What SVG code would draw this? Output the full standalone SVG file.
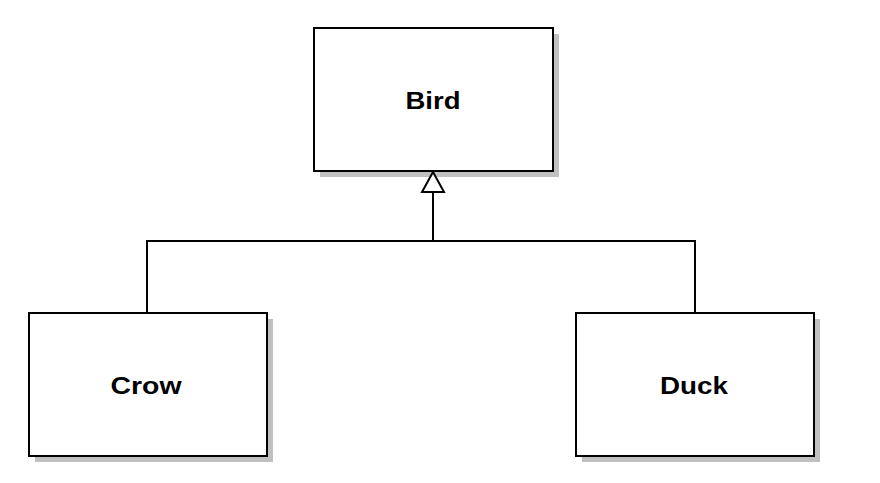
<svg xmlns="http://www.w3.org/2000/svg" width="880" height="483" viewBox="0 0 880 483">
<style>
.box{fill:#fff;stroke:#000;stroke-width:2}
.sh{fill:#c0c0c0}
.t{font-family:"Liberation Sans",Arial,sans-serif;font-weight:bold;font-size:24px;text-anchor:middle;dominant-baseline:central}
.c{fill:none;stroke:#000;stroke-width:2}
</style>
<rect width="880" height="483" fill="#fff"/>
<g id="Bird"><rect class="sh" x="320" y="34" width="239" height="143"/><rect class="box" x="314" y="28" width="239" height="143"/><text class="t" x="433" y="100" textLength="55" lengthAdjust="spacingAndGlyphs">Bird</text></g>
<g id="Crow"><rect class="sh" x="35" y="319" width="238" height="143"/><rect class="box" x="29" y="313" width="238" height="143"/><text class="t" x="146" y="385" textLength="71" lengthAdjust="spacingAndGlyphs">Crow</text></g>
<g id="Duck"><rect class="sh" x="582" y="319" width="238" height="143"/><rect class="box" x="576" y="313" width="238" height="143"/><text class="t" x="694" y="385" textLength="68" lengthAdjust="spacingAndGlyphs">Duck</text></g>
<g id="connectors">
<polyline class="c" points="147,313 147,241 695,241 695,313"/>
<line class="c" x1="433" y1="241" x2="433" y2="192"/>
<polygon points="433,172 422,192 444,192" fill="#fff" stroke="#000" stroke-width="2"/>
</g>
</svg>
